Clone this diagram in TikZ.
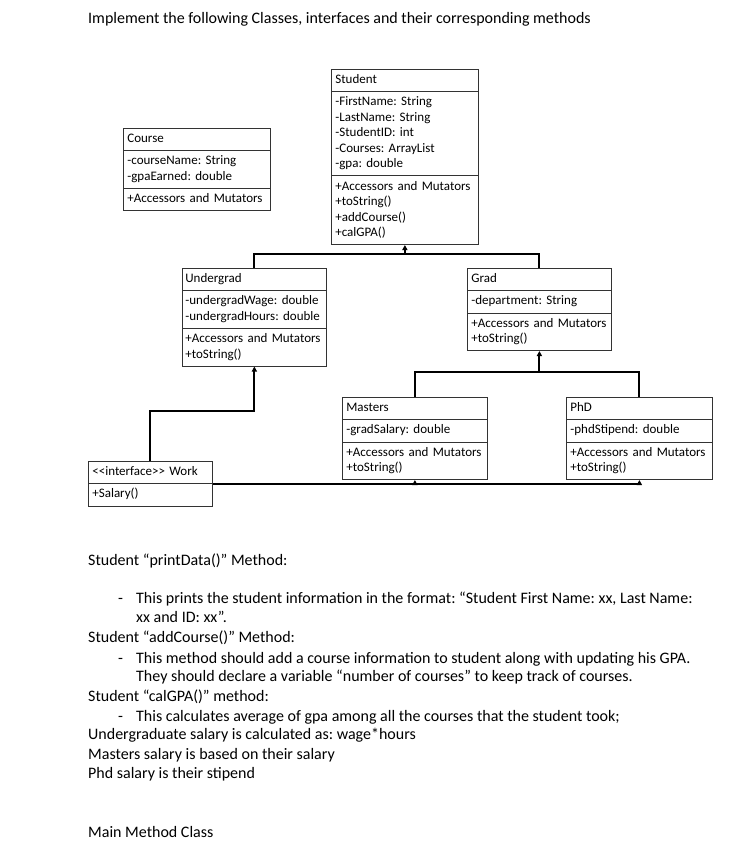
\documentclass[tikz,border=0pt]{standalone}
\usepackage{fontspec}
\setmainfont{Carlito}
\usetikzlibrary{shapes.multipart,arrows.meta}
\newcommand{\diagfont}{\fontsize{13}{15.5}\selectfont}
\newcommand{\bodyfont}{\fontsize{16}{19}\selectfont}
\tikzset{
  umlclass/.style={rectangle split, rectangle split parts=3, draw=black!80, line width=0.75pt,
    anchor=north west, inner xsep=4pt, inner ysep=3pt, font=\diagfont, align=left, text width=#1},
  umliface/.style={umlclass=#1, rectangle split parts=2},
  conn/.style={line width=1.8pt, black},
  arr/.style={conn, -{Triangle[length=5pt,width=5pt]}},
  bodytext/.style={anchor=base west, inner sep=0pt, font=\bodyfont},
}
\begin{document}
\frenchspacing
\begin{tikzpicture}[x=1pt,y=-1pt]
\useasboundingbox[fill=white] (0,0) rectangle (730,861);

\node[bodytext] (title) at (88,24) {Implement the following Classes, interfaces and their corresponding methods};

% classes
\node[umlclass=139pt] (student) at (331,69) {\strut Student
  \nodepart{two}\strut -FirstName: String\\\strut -LastName: String\\\strut -StudentID: int\\\strut -Courses: ArrayList\\\strut -gpa: double
  \nodepart{three}\strut +Accessors and Mutators\\\strut +toString()\\\strut +addCourse()\\\strut +calGPA()};

\node[umlclass=139pt] (course) at (123,128) {\strut Course
  \nodepart{two}\strut -courseName: String\\\strut -gpaEarned: double
  \nodepart{three}\strut +Accessors and Mutators};

\node[umlclass=138pt, inner xsep=3pt] (undergrad) at (182,268) {\strut Undergrad
  \nodepart{two}\strut -undergradWage: double\\\strut -undergradHours: double
  \nodepart{three}\strut\mbox{+Accessors and Mutators}\\\strut +toString()};

\node[umlclass=136pt] (grad) at (467,268) {\strut Grad
  \nodepart{two}\strut -department: String
  \nodepart{three}\strut +Accessors and Mutators\\\strut +toString()};

\node[umlclass=137pt] (masters) at (342,397) {\strut Masters
  \nodepart{two}\strut -gradSalary: double
  \nodepart{three}\strut +Accessors and Mutators\\\strut +toString()};

\node[umlclass=138pt] (phd) at (566,397) {\strut PhD
  \nodepart{two}\strut -phdStipend: double
  \nodepart{three}\strut +Accessors and Mutators\\\strut +toString()};

\node[umliface=116pt] (work) at (88,461) {\strut <{}<interface>{}> Work
  \nodepart{two}\strut +Salary()};

% connectors
\coordinate (j1) at (student.south |- 0,254);
\draw[conn] (undergrad.north) -- (undergrad.north |- j1) -- (grad.north |- j1) -- (grad.north);
\draw[arr] (j1) -- (student.south);

\coordinate (j2) at (grad.south |- 0,372);
\draw[conn] (masters.north) -- (masters.north |- j2) -- (phd.north |- j2) -- (phd.north);
\draw[arr] (j2) -- (grad.south);

\coordinate (j3) at (undergrad.south |- 0,411);
\draw[arr] (work.north) |- (j3) -- (undergrad.south);

\coordinate (j4) at (phd.south |- work.east);
\coordinate (j5) at (masters.south |- work.east);
\draw[conn] (work.east) -- (j4);
\draw[arr] (j5) -- (masters.south);
\draw[arr] (j4) -- (phd.south);

% body text
\node[bodytext] (t1) at (88,565) {Student “printData()” Method:};
\node[bodytext] (d1) at (118,603) {-};
\node[bodytext] (t2) at (136,603) {This prints the student information in the format: “Student First Name: xx, Last Name:};
\node[bodytext] (t3) at (136,622) {xx and ID: xx”.};
\node[bodytext] (t4) at (88,642) {Student “addCourse()” Method:};
\node[bodytext] (d2) at (118,663) {-};
\node[bodytext] (t5) at (136,663) {This method should add a course information to student along with updating his GPA.};
\node[bodytext] (t6) at (136,681) {They should declare a variable “number of courses” to keep track of courses.};
\node[bodytext] (t7) at (88,701) {Student “calGPA()” method:};
\node[bodytext] (d3) at (118,721) {-};
\node[bodytext] (t8) at (136,721) {This calculates average of gpa among all the courses that the student took;};
\node[bodytext] (t9) at (88,739) {Undergraduate salary is calculated as: wage*hours};
\node[bodytext] (t10) at (88,759) {Masters salary is based on their salary};
\node[bodytext] (t11) at (88,778) {Phd salary is their stipend};
\node[bodytext] (t12) at (88,837) {Main Method Class};
\end{tikzpicture}
\end{document}
